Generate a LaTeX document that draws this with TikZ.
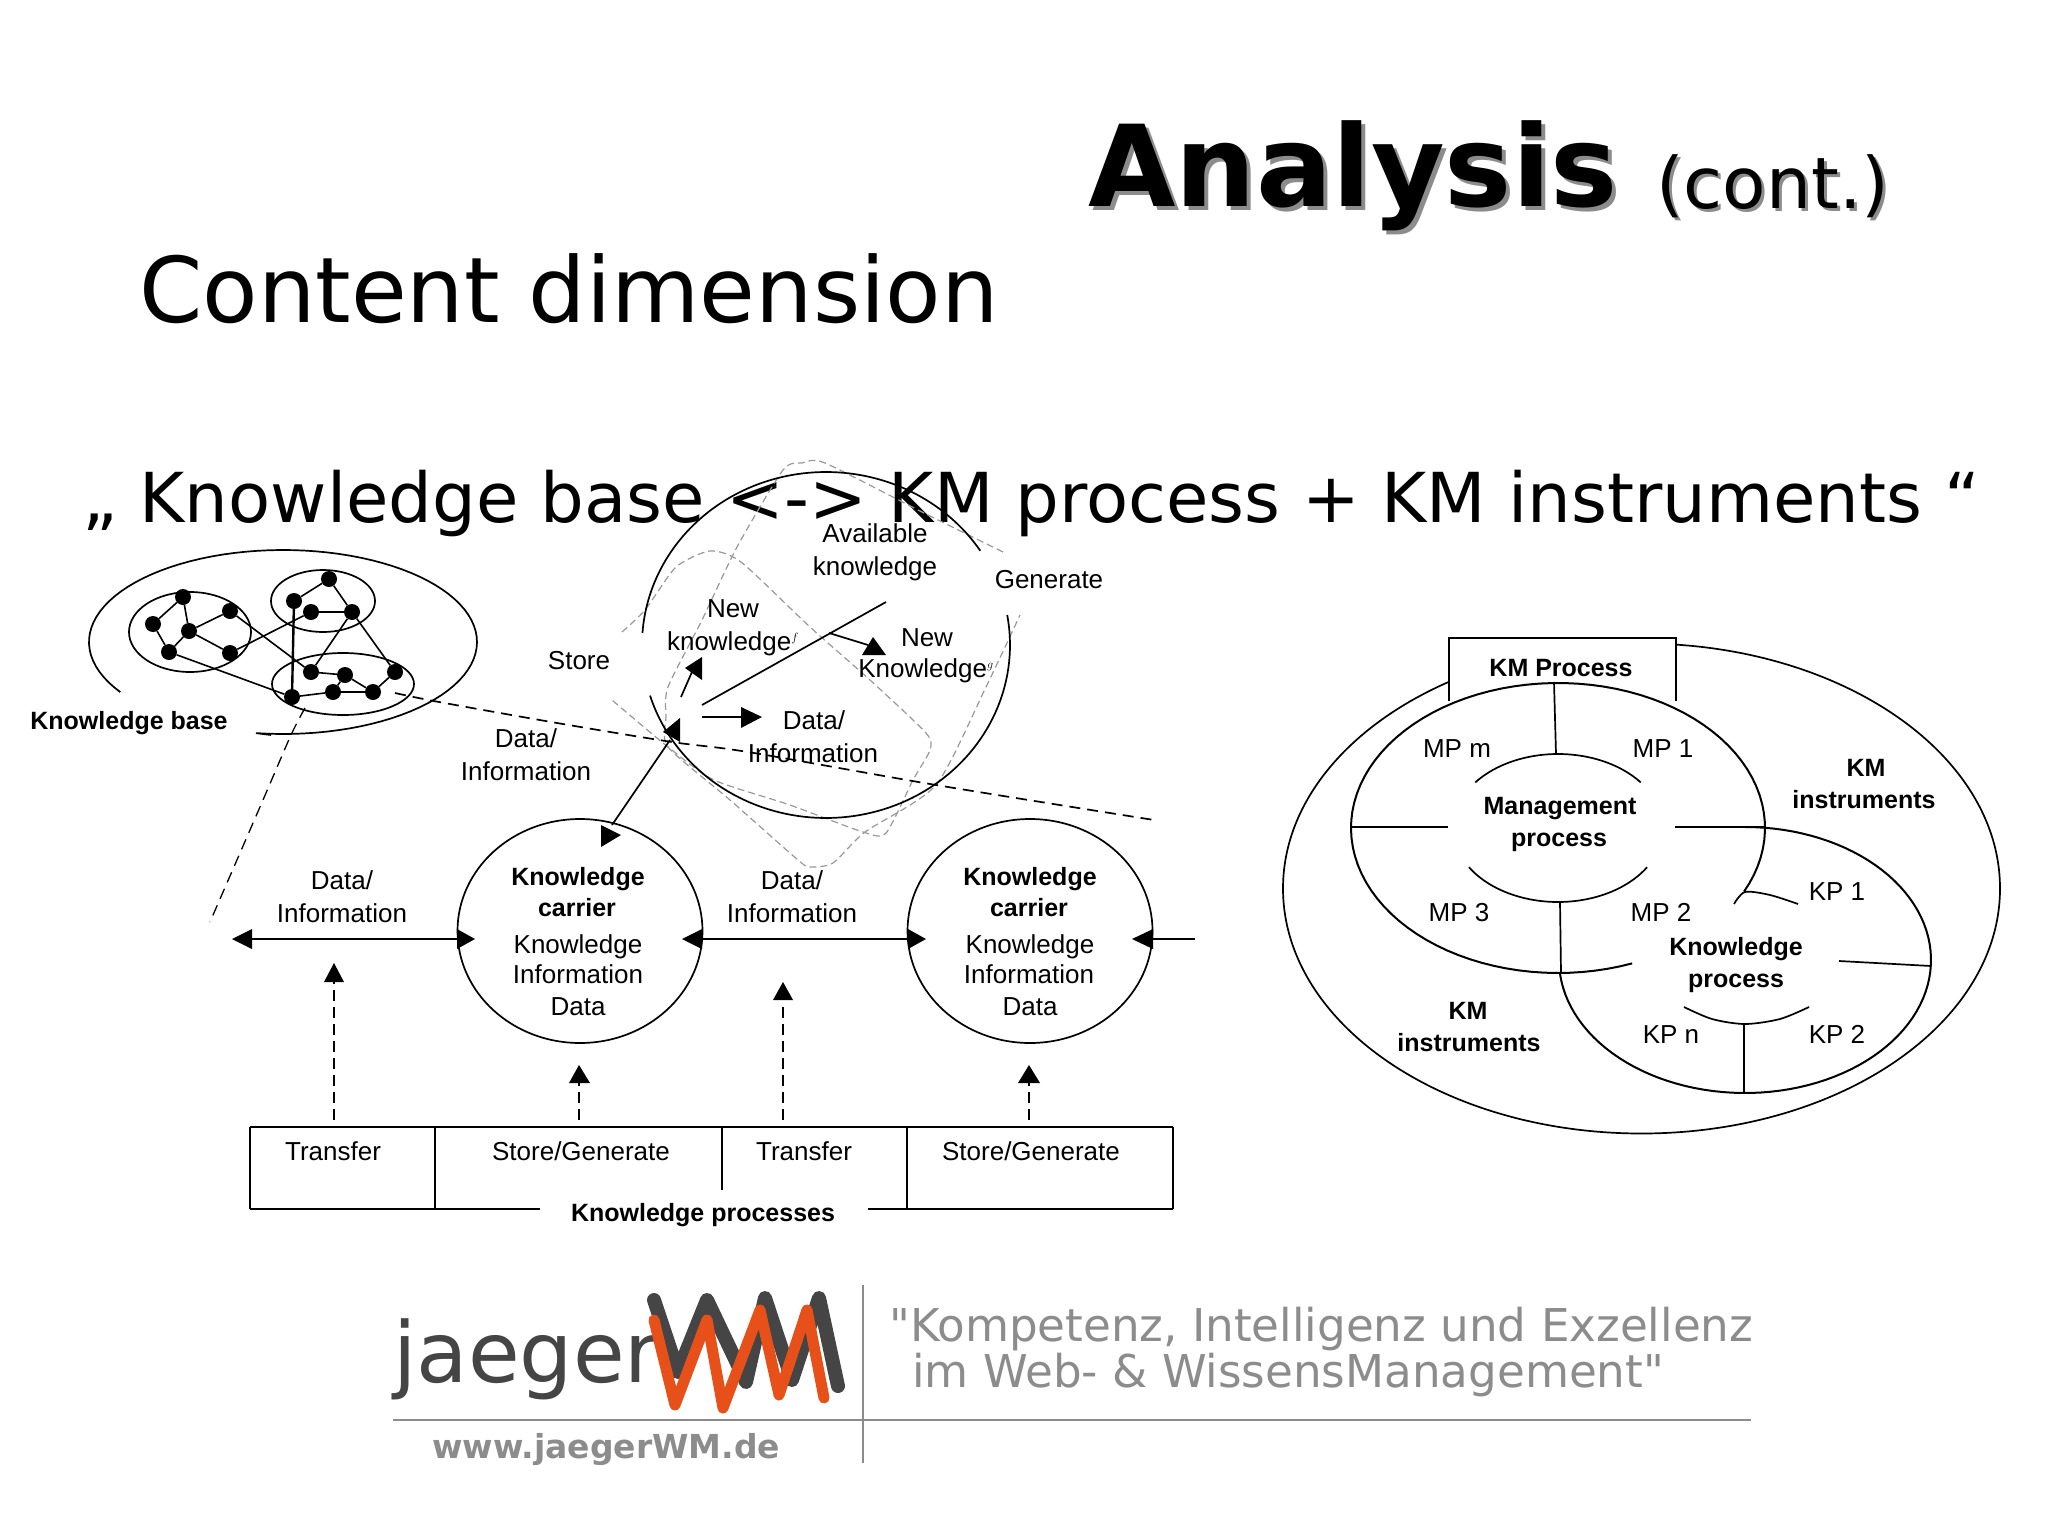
\documentclass[tikz,border=0pt]{standalone}
\usepackage{fontspec}
\setmainfont{Liberation Sans}
\newfontfamily\dv{DejaVu Sans}
\usetikzlibrary{shapes.geometric}
\definecolor{lgray}{gray}{0.55}
\definecolor{gdash}{gray}{0.6}
\definecolor{jdark}{HTML}{454545}
\definecolor{jorange}{HTML}{E8501A}
\newcommand{\earc}[6]{plot[domain=#5:#6,samples=90,variable=\q] ({#1+#2*cos(\q)},{#3+#4*sin(\q)})}
\newcommand{\tri}[3]{\fill (#1) -- (#2) -- (#3) -- cycle;}
\tikzset{
  lbl/.style={inner sep=0pt,font=\fontsize{26}{30}\selectfont,text height=19pt,text depth=0pt,align=center},
  blbl/.style={lbl,font=\fontsize{25}{30}\selectfont\bfseries},
  ln/.style={draw=black,line width=1.7pt},
  thin ln/.style={draw=black,line width=1.3pt},
  ell/.style={ellipse,draw=black,line width=1.7pt,inner sep=0pt},
  kdot/.style={circle,fill=black,inner sep=0pt,minimum size=16pt},
  edge ln/.style={draw=black,line width=1.6pt},
  dsh/.style={draw=black,line width=1.7pt,dash pattern=on 11pt off 7pt},
  gsh/.style={draw=gdash,line width=1.2pt,dash pattern=on 7pt off 4pt},
  head/.style={inner sep=0pt,anchor=base west},
}
\begin{document}
\begin{tikzpicture}[x=1pt,y=-1pt]
\useasboundingbox (0,0) rectangle (2048,1536);
\fill[white] (0,0) rectangle (2048,1536);
% headings
\node[head,text=lgray] (ts) at (1092,210) {\dv\fontsize{113}{120}\selectfont\bfseries Analysis};
\node[head] (t) at (1088,206) {\dv\fontsize{113}{120}\selectfont\bfseries Analysis};
\node[head,text=lgray] (cs) at (1659,211) {\dv\fontsize{71}{80}\selectfont (cont.)};
\node[head] (c) at (1656,208) {\dv\fontsize{71}{80}\selectfont (cont.)};
\node[head] (sub) at (139,322) {\dv\fontsize{90.7}{100}\selectfont Content dimension};
\node[head] (line) at (82,522) {\dv\fontsize{68.9}{80}\selectfont „ Knowledge base <-> KM process + KM instruments “};

% Knowledge base ellipses
\draw[ln] \earc{283}{194}{642}{92}{-213}{98} -- (271,735);
\node[ell,minimum width=122pt,minimum height=80pt] (EA) at (190,632) {};
\node[ell,minimum width=104pt,minimum height=62pt] (EB) at (323,601) {};
\node[ell,minimum width=142pt,minimum height=62pt] (EC) at (343,684) {};
\foreach \n/\x/\y in {a1/183/597,a2/153/624,a3/230/611,a4/189/631,a5/169/652,a6/230/653,
  b1/329/579,b2/294/601,b3/311/612,b4/352/612,
  c1/311/672,c2/345/675,c3/395/672,c4/292/697,c5/333/692,c6/373/692}
  \node[kdot] (\n) at (\x,\y) {};
\foreach \p/\q in {a1/a2,a1/a4,a2/a5,a4/a5,a4/a3,a4/a6,a5/c4,a3/c1,a6/b3,b1/b2,b1/b4,b3/b4,
  b4/c1,b4/c3,c1/c2,c2/c5,c2/c6,c4/c5,c5/c6,c3/c6}
  \draw[edge ln] (\p) -- (\q);
\draw[draw=black,line width=2.4pt] (b2) -- (c4);
\node[blbl] (kb) at (129,720) {Knowledge base};

% grey dashed rounded rectangles
\draw[gsh] plot[smooth,tension=.4] coordinates {(622,632)(645,610)(676,567)(710,551)(741,562)(810,627)(870,680)(926,733)(930,750)(913,780)(886,833)(863,832)(790,805)(714,780)(668,747)(612,700)};
\draw[gsh] plot[smooth,tension=.4] coordinates {(1003,552)(924,513)(825,463)(802,463)(783,470)(737,547)(702,620)(668,687)(666,717)(668,747)(730,800)(798,860)(810,867)(833,863)(865,832)(936,785)(986,687)(1020,615)};

% big circle
\draw[ln] \earc{826}{184}{645}{173}{184}{327};
\draw[ln] \earc{826}{184}{645}{173}{-10}{163};

% dashed long curves
\coordinate (dA) at (395,693);
\coordinate (dB) at (1154,820);
\coordinate (dC) at (305,708);
\coordinate (dD) at (210,922);
\draw[dsh] plot[smooth,tension=.5] coordinates {(dA)(439,702)(557,723)(672,742)(748,752)(936,785)(dB)};
\draw[draw=black,line width=1.3pt,dash pattern=on 11pt off 7pt] plot[smooth,tension=.5] coordinates {(dC)(291,735)(263,800)(dD)};

% arrows in big circle
\coordinate (g1) at (702,705);
\coordinate (g2) at (886,602);
\coordinate (g3) at (829,633);
\coordinate (g4) at (868,645);
\draw[ln] (g1) -- (g2);
\draw[ln] (g3) -- (g4);
\tri{873,637}{862,655}{886,655}
\coordinate (s1) at (681,697);
\coordinate (s2) at (695,665);
\draw[ln] (s1) -- (s2);
\tri{702,657}{702,680}{685,668}
\coordinate (h1) at (702,717);
\coordinate (h2) at (745,717);
\draw[ln] (h1) -- (h2);
\tri{762,717}{741,707}{741,728}
\tri{680,718}{680,742}{663,732}

% carriers
\node[ell,minimum width=245pt,minimum height=224pt] (K1) at (580,931) {};
\node[ell,minimum width=245pt,minimum height=224pt] (K2) at (1030,931) {};
\coordinate (hub) at (670,740);
\coordinate (kt) at (612,825);
\draw[ln] (hub) -- (kt);
\tri{601,825}{601,847}{621,835}

% horizontal arrows
\coordinate (L) at (240,939);
\coordinate (R) at (1195,939);
\draw[draw=black,line width=2.2pt] (L) -- (K1.west |- 0,939);
\draw[draw=black,line width=2.2pt] (K1.east |- 0,939) -- (K2.west |- 0,939);
\draw[draw=black,line width=1.8pt] (K2.east |- 0,939) -- (R);
\tri{232,939}{252,929}{252,949}
\tri{457,929}{457,949}{475,939}
\tri{702,929}{702,949}{682,939}
\tri{908,929}{908,949}{926,939}
\tri{1153,929}{1153,949}{1132,939}

% knowledge process box
\coordinate (bL) at (250,1127);
\coordinate (bR) at (1173,1127);
\coordinate (bLb) at (250,1209);
\coordinate (bRb) at (1173,1209);
\draw[draw=black,line width=2pt] (bL) -- (bR);
\draw[ln] (bLb) -- (bL);
\draw[ln] (bRb) -- (bR);
\draw[ln] (bLb) -- (540,1209);
\draw[ln] (868,1209) -- (bRb);
\draw[ln] (435,1127) -- (435,1209);
\draw[thin ln] (722,1127) -- (722,1190);
\draw[ln] (907,1127) -- (907,1209);

% dashed upward arrows
\coordinate (u1b) at (334,1120);\coordinate (u1t) at (334,982);
\coordinate (u2b) at (579,1120);\coordinate (u2t) at (579,1083);
\coordinate (u3b) at (783,1120);\coordinate (u3t) at (783,1003);
\coordinate (u4b) at (1029,1120);\coordinate (u4t) at (1029,1083);
\foreach \a/\b in {u1b/u1t,u2b/u2t,u3b/u3t,u4b/u4t}
  \draw[draw=black,line width=1.4pt,dash pattern=on 11pt off 6pt] (\a) -- (\b);
\tri{334,963}{324,982}{344,982}
\tri{579,1065}{569,1083}{590,1083}
\tri{783,982}{773,1000}{793,1000}
\tri{1029,1065}{1018,1083}{1040,1083}

% labels left diagram
\node[lbl] (t01) at (875,533) {Available};
\node[lbl] (t02) at (875,566) {knowledge};
\node[lbl] (t03) at (1049,579) {Generate};
\node[lbl] (t04) at (733,608) {New};
\node[lbl] (t05) at (733,641) {knowledge$^{\scriptscriptstyle f}$};
\node[lbl] (t06) at (927,637) {New};
\node[lbl] (t07) at (926,668) {Knowledge$^{\scriptscriptstyle g}$};
\node[lbl] (t08) at (814,720) {Data/};
\node[lbl] (t09) at (813,753) {Information};
\node[lbl] (t10) at (579,660) {Store};
\node[lbl] (t11) at (526,738) {Data/};
\node[lbl] (t12) at (526,771) {Information};
\node[lbl] (t13) at (342,880) {Data/};
\node[lbl] (t14) at (342,913) {Information};
\node[lbl] (t15) at (792,880) {Data/};
\node[lbl] (t16) at (792,913) {Information};
\node[blbl] (k1a) at (578,876) {Knowledge};
\node[blbl] (k1b) at (577,907) {carrier};
\node[lbl] (k1c) at (578,944) {Knowledge};
\node[lbl] (k1d) at (578,974) {Information};
\node[lbl] (k1e) at (578,1006) {Data};
\node[blbl] (k2a) at (1030,876) {Knowledge};
\node[blbl] (k2b) at (1029,907) {carrier};
\node[lbl] (k2c) at (1030,944) {Knowledge};
\node[lbl] (k2d) at (1029,974) {Information};
\node[lbl] (k2e) at (1030,1006) {Data};
\node[lbl] (p1) at (333,1151) {Transfer};
\node[lbl] (p2) at (581,1151) {Store/Generate};
\node[lbl] (p3) at (804,1151) {Transfer};
\node[lbl] (p4) at (1031,1151) {Store/Generate};
\node[blbl] (p5) at (703,1212) {Knowledge processes};

% right diagram
\node[ell,minimum width=717pt,minimum height=490pt] (OUT) at (1641.5,888.5) {};
\coordinate (x1) at (1449,701);\coordinate (x2) at (1449,638);
\coordinate (x3) at (1676,638);\coordinate (x4) at (1676,701);
\fill[white] (x1) -- (x2) -- (x3) -- (x4) -- cycle;
\draw[ln] (x1) -- (x2) -- (x3) -- (x4);
\draw[draw=black,line width=2pt] \earc{1558}{207}{828}{145}{69}{386};
\draw[draw=black,line width=2pt] \earc{1745}{186}{960}{133}{-90}{174};
\draw[ln] \earc{1558}{105}{828}{74}{218}{322};
\draw[ln] \earc{1558}{105}{828}{74}{32}{148};
\draw[ln] (1554,682) -- (1556,754);
\draw[ln] (1351,827) -- (1448,827);
\draw[ln] (1675,827) -- (1766,827);
\draw[ln] (1560,902) -- (1561,973);
\draw[ln] plot[smooth] coordinates {(1734,904)(1745,892)(1770,895)(1798,904)};
\draw[ln] plot[smooth] coordinates {(1684,1007)(1712,1019)(1745,1024)(1780,1019)(1809,1007)};
\draw[ln] (1839,961) -- (1931,966);
\draw[ln] (1744,1024) -- (1744,1092);
\node[blbl] (r01) at (1561,667) {KM Process};
\node[lbl] (r02) at (1457,748) {MP m};
\node[lbl] (r03) at (1663,748) {MP 1};
\node[lbl] (r04) at (1459,912) {MP 3};
\node[lbl] (r05) at (1661,912) {MP 2};
\node[blbl] (r06) at (1560,805) {Management};
\node[blbl] (r07) at (1559,837) {process};
\node[blbl] (r08) at (1866,767) {KM};
\node[blbl] (r09) at (1864,799) {instruments};
\node[blbl] (r10) at (1468,1010) {KM};
\node[blbl] (r11) at (1469,1042) {instruments};
\node[lbl] (r12) at (1837,891) {KP 1};
\node[blbl] (r13) at (1736,946) {Knowledge};
\node[blbl] (r14) at (1736,978) {process};
\node[lbl] (r15) at (1671,1034) {KP n};
\node[lbl] (r16) at (1837,1034) {KP 2};

% logo
\draw[draw=lgray,line width=2pt] (863,1285) -- (863,1463);
\draw[draw=lgray,line width=2.4pt] (393,1420) -- (1751,1420);
\node[head,text=jdark] (j) at (393,1382) {\dv\fontsize{84}{90}\selectfont jaeger};
\draw[draw=jdark,line width=14pt,line cap=round,line join=round] (654,1300) -- (678,1372) -- (707,1300) -- (746,1382) -- (765,1298) -- (792,1380) -- (819,1298) -- (838,1386);
\draw[draw=jorange,line width=11pt,line cap=round,line join=round] (654,1320) -- (675,1405) -- (707,1320) -- (723,1408) -- (760,1310) -- (779,1395) -- (807,1310) -- (824,1398);
\node[head,text=lgray] (w) at (432,1458) {\dv\fontsize{33}{40}\selectfont\bfseries www.jaegerWM.de};
\node[head,text=lgray] (q1) at (889,1341) {\dv\fontsize{45.2}{50}\selectfont "Kompetenz, Intelligenz und Exzellenz};
\node[head,text=lgray] (q2) at (912,1387) {\dv\fontsize{45.2}{50}\selectfont im Web- \& WissensManagement"};
\end{tikzpicture}
\end{document}
